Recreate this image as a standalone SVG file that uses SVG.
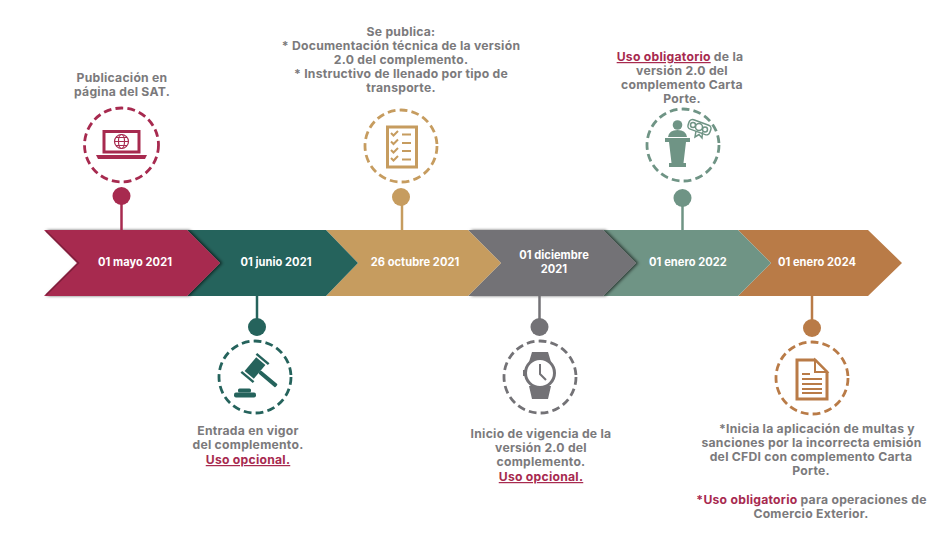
<svg xmlns="http://www.w3.org/2000/svg" width="944" height="534" viewBox="0 0 944 534">
<defs>
<filter id="sh" x="-10%" y="-10%" width="120%" height="120%"><feDropShadow dx="2.500" dy="0" stdDeviation="1.500" flood-color="#000" flood-opacity=".6"/></filter>
</defs>
<style>
text{font-family:"Inter","Noto Sans","Liberation Sans",sans-serif;font-weight:700;text-anchor:middle}
.t{font-size:12.200px;letter-spacing:.25px;fill:#7b7a7c}
.l{font-size:11.100px;letter-spacing:.05px;fill:#fff}
.r{fill:#a72a4f;text-decoration:underline}
.rn{fill:#a72a4f}
.ring{fill:none;stroke-width:2.800;stroke-dasharray:7.800 4.200}
.stem{stroke-width:2.500;fill:none}
</style>
<rect width="944" height="534" fill="#fff"/>
<g id="arrows">
<path d="M738 230H868L902 263L868 296H738L771 263Z" fill="#b97b47"/>
<path d="M603 230H738L771 263L738 296H603L636 263Z" fill="#6f9485"/>
<path d="M468 230H603L636 263L603 296H468L501 263Z" fill="#737276" filter="url(#sh)"/>
<path d="M326 230H468L501 263L468 296H326L358 263Z" fill="#c69c5f"/>
<path d="M187 230H326L358 263L326 296H187L220 263Z" fill="#25635c"/>
<path d="M44 230H187L220 263L187 296H44L77 263Z" fill="#a72a4f" filter="url(#sh)"/>
<path d="M46 231L78.500 263L46 295" fill="none" stroke="#6d1a33" stroke-width="1.500" stroke-opacity=".7"/>
</g>
<g id="connectors">
<path class="stem" stroke="#a72a4f" d="M121.500 196V230"/>
<path class="stem" stroke="#25635c" d="M257 296V327"/>
<path class="stem" stroke="#c69c5f" d="M402 197V230"/>
<path class="stem" stroke="#737276" d="M539.500 296V327"/>
<path class="stem" stroke="#6f9485" d="M682.500 198V230"/>
<path class="stem" stroke="#b97b47" d="M812 296V328"/>
</g>
<g id="node-mayo">
<text class="l" x="135" y="266">01 mayo 2021</text>
<circle cx="121.500" cy="196" r="9" fill="#a72a4f"/>
<circle class="ring" cx="121.500" cy="145" r="37" stroke="#a72a4f"/>
<path d="M104 131.500H139V152H104Z" fill="#fff" stroke="#a72a4f" stroke-width="3"/>
<path d="M96 155H147L145 159H98Z" fill="#a72a4f"/>
<g fill="none" stroke="#a72a4f" stroke-width="1.200"><circle cx="121.500" cy="141.500" r="7"/><ellipse cx="121.500" cy="141.500" rx="3" ry="7"/><path d="M114.500 141.500H128.500M116 137.500H127M116 145.500H127"/></g>
<text class="t" x="122" y="82">Publicación en</text><text class="t" x="122" y="96">página del SAT.</text>
</g>
<g id="node-junio">
<text class="l" x="276" y="266">01 junio 2021</text>
<circle cx="257" cy="327" r="9" fill="#25635c"/>
<circle class="ring" cx="255" cy="377" r="36" stroke="#25635c"/>
<g fill="#25635c"><g transform="translate(255 368) rotate(-50)"><rect x="-9" y="-6" width="18" height="12"/><rect x="-13" y="-8" width="2.500" height="16"/><rect x="10.500" y="-8" width="2.500" height="16"/><rect x="-2" y="6" width="4" height="22" rx="1"/></g><rect x="234" y="392.500" width="22" height="5" rx="2"/><rect x="238" y="388.500" width="13" height="4" rx="1.500"/></g>
<text class="t" x="248" y="435">Entrada en vigor</text><text class="t" x="248" y="449">del complemento.</text><text class="t r" x="248" y="464">Uso opcional.</text>
</g>
<g id="node-octubre">
<text class="l" x="415" y="266">26 octubre 2021</text>
<circle cx="401" cy="197" r="9" fill="#c69c5f"/>
<circle class="ring" cx="401" cy="146" r="36" stroke="#c69c5f"/>
<rect x="387.500" y="127" width="29" height="40" fill="#fff" stroke="#c69c5f" stroke-width="3"/>
<g fill="none" stroke="#c69c5f" stroke-width="2"><path d="M391 133L393.500 135.500L398 131M391 141.500L393.500 144L398 139.500M391 150L393.500 152.500L398 148M391 158L393.500 160.500L398 156"/><path d="M402 134.500H411M402 143H411M402 151H411M402 159.500H411"/></g>
<text class="t" x="401" y="36">Se publica:</text><text class="t" x="401" y="50">* Documentación técnica de la versión</text><text class="t" x="401" y="64">2.0 del complemento.</text><text class="t" x="401" y="78">* Instructivo de llenado por tipo de</text><text class="t" x="401" y="92">transporte.</text>
</g>
<g id="node-diciembre">
<text class="l" x="554" y="259">01 diciembre</text><text class="l" x="554" y="273">2021</text>
<circle cx="539.500" cy="327" r="9" fill="#737276"/>
<circle class="ring" cx="540" cy="377" r="36" stroke="#737276"/>
<path d="M532 352H548L551 362H529ZM529 386H551L548 399H532Z" fill="#737276"/>
<circle cx="540" cy="373" r="14.500" fill="#fff" stroke="#737276" stroke-width="3"/>
<path d="M540 364V374L546 380" fill="none" stroke="#737276" stroke-width="2"/>
<rect x="523" y="370" width="2" height="6" fill="#737276"/>
<text class="t" x="541" y="438">Inicio de vigencia de la</text><text class="t" x="541" y="452">versión 2.0 del</text><text class="t" x="541" y="466">complemento.</text><text class="t r" x="541" y="481">Uso opcional.</text>
</g>
<g id="node-enero-2022">
<text class="l" x="688" y="266">01 enero 2022</text>
<circle cx="682.500" cy="198" r="9" fill="#6f9485"/>
<circle class="ring" cx="683" cy="145" r="36" stroke="#6f9485"/>
<g fill="#6f9485"><circle cx="677.500" cy="125" r="4.800"/><path d="M668 137Q669 130 677.500 130Q686 130 687 137Z"/><path d="M665 138H690V142H686L683.500 163H686V167H669V163H671.500L669 142H665Z"/></g>
<g fill="none" stroke="#6f9485" stroke-width="1.500"><rect x="688" y="122" width="23" height="10" rx="3.500" transform="rotate(20 699 127)"/><circle cx="693" cy="125" r="2.500"/><circle cx="699" cy="127" r="3.500"/><circle cx="705" cy="129.500" r="2.500"/><path d="M696 131L695 137L699 134.500L702 138L702.500 132"/></g>
<text class="t" x="680" y="61"><tspan class="r">Uso obligatorio</tspan> de la</text><text class="t" x="682" y="75">versión 2.0 del</text><text class="t" x="682" y="89">complemento Carta</text><text class="t" x="682" y="103">Porte.</text>
</g>
<g id="node-enero-2024">
<text class="l" x="817" y="266">01 enero 2024</text>
<circle cx="812" cy="328" r="9" fill="#b97b47"/>
<circle class="ring" cx="812" cy="378" r="36" stroke="#b97b47"/>
<path d="M797 360H815L827 372V399H797Z" fill="#fff" stroke="#b97b47" stroke-width="3"/>
<path d="M815 360V372H827Z" fill="#fff" stroke="#b97b47" stroke-width="2"/>
<path d="M802 374H810M802 379H822M802 384H822M802 389H822M802 393H822" stroke="#b97b47" stroke-width="2" fill="none"/>
<text class="t" x="817" y="433">*Inicia la aplicación de multas y</text><text class="t" x="811.500" y="447">sanciones por la incorrecta emisión</text><text class="t" x="811" y="461">del CFDI con complemento Carta</text><text class="t" x="811" y="475">Porte.</text>
<text class="t" x="811.500" y="504"><tspan class="rn">*Uso obligatorio</tspan> para operaciones de</text><text class="t" x="811" y="518">Comercio Exterior.</text>
</g>
</svg>
